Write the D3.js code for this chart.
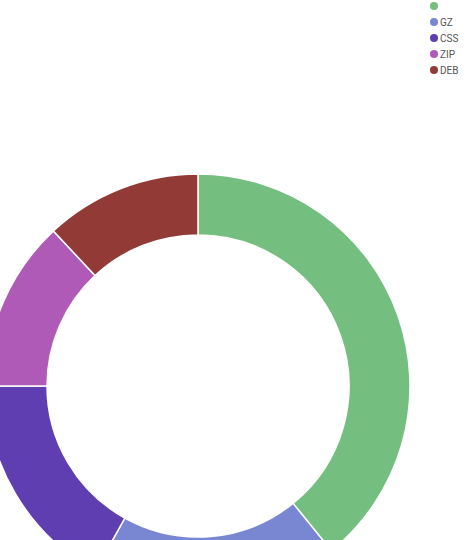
<!DOCTYPE html>
<html><head><meta charset="utf-8">
<script src="https://cdn.jsdelivr.net/npm/d3@7"></script>
<style>body{margin:0;background:#fff}text{font-family:Roboto,sans-serif}</style>
</head><body><svg id="c" width="474" height="540"></svg>
<script>
const labels = ['', 'GZ', 'CSS', 'ZIP', 'DEB']
const values = [141, 68, 61, 47, 43]
const colors = ['#74bf80', '#7987d3', '#5e3eb0', '#b05ab8', '#923a36']

const svg = d3.select('#c')
const pie = d3.pie().sort(null)(values)
const arc = d3.arc().innerRadius(151).outerRadius(212)

svg.append('g')
  .attr('transform', 'translate(198,386)')
  .selectAll('path')
  .data(pie)
  .enter()
  .append('path')
  .attr('d', arc)
  .attr('fill', (d, i) => colors[i])
  .attr('stroke', '#fff')
  .attr('stroke-width', 1.5)

const legend = svg.append('g').attr('transform', 'translate(434,6)')
const item = legend.selectAll('g')
  .data(labels)
  .enter()
  .append('g')
  .attr('transform', (d, i) => `translate(0,${i * 16})`)
item.append('circle').attr('r', 4).attr('fill', (d, i) => colors[i])
item.append('text')
  .attr('x', 6).attr('y', 3.5)
  .attr('font-size', 10).attr('fill', '#555')
  .text(d => d)
</script></body></html>
